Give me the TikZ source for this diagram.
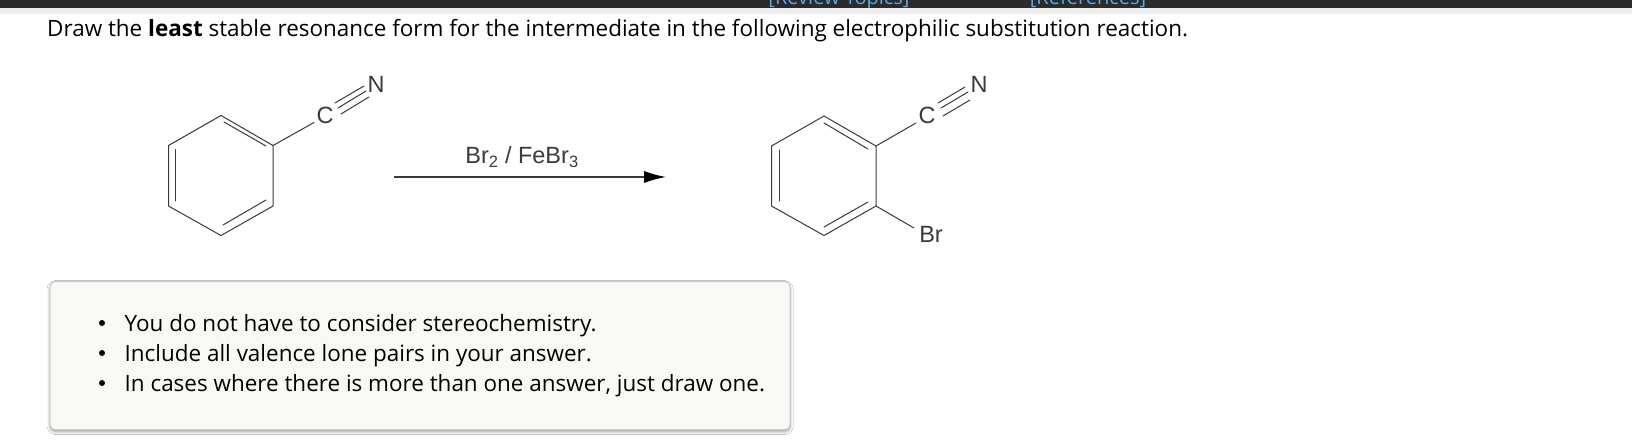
\documentclass[tikz,border=0pt]{standalone}
\usepackage{fontspec}
\setmainfont{Open Sans}
\newfontfamily\chemfont{Liberation Sans}
\usetikzlibrary{arrows.meta,shadows.blur}
\definecolor{bondc}{HTML}{3A3A3A}
\definecolor{barc}{HTML}{2B2B2B}
\definecolor{linkc}{HTML}{5FA8D8}
\definecolor{boxfill}{HTML}{F8F8F4}
\definecolor{boxline}{HTML}{CCCCCC}
\tikzset{
  x=1pt,y=-1pt,
  bond/.style={draw=bondc,line width=1pt,line cap=round,line join=round},
  atom/.style={font=\chemfont\fontsize{23.5}{26}\selectfont,text=bondc,inner sep=0pt,anchor=center},
  pagetext/.style={font=\fontsize{22.45}{26}\selectfont,text=black,inner sep=0pt,anchor=base west},
  listtext/.style={font=\fontsize{22.45}{26}\selectfont,text=black,inner sep=0pt,anchor=base west},
  dotmark/.style={circle,fill=black,inner sep=0pt,minimum size=6pt},
}
\begin{document}
\begin{tikzpicture}
\useasboundingbox (0,0) rectangle (1632,444);
\fill[white] (0,0) rectangle (1632,444);
\fill[black!7] (0,8) rectangle (1632,14);
\begin{scope}
\clip (0,0) rectangle (1632,8);
\fill[barc] (0,0) rectangle (1632,8);
\node[font=\fontsize{20}{24}\selectfont,text=linkc,inner sep=0pt,anchor=base] (rt) at (839,5) {[Review Topics]};
\node[font=\fontsize{20}{24}\selectfont,text=linkc,inner sep=0pt,anchor=base] (rf) at (1088,5) {[References]};
\end{scope}
\node[pagetext] (title) at (47,37) {Draw the \textbf{least} stable resonance form for the intermediate in the following electrophilic substitution reaction.};

% left molecule
\coordinate (a1) at (221,115.5);
\coordinate (a2) at (273,145.5);
\coordinate (a3) at (273,206);
\coordinate (a4) at (221,235.5);
\coordinate (a5) at (168.5,206);
\coordinate (a6) at (168.5,145.5);
\draw[bond] (a1)--(a2)--(a3)--(a4)--(a5)--(a6)--cycle;
\draw[bond] (224,122) -- (266,146);
\draw[bond] (266,200) -- (223,225);
\draw[bond] (175.5,149.5) -- (175.5,201);
\node[atom] (c1) at (325,115) {C};
\node[atom] (n1) at (376,84) {N};
\draw[bond] (a2) -- (314,122.5);
\draw[bond] (335,103) -- (364,86);
\draw[bond] (338,108) -- (366,91);
\draw[bond] (341,114) -- (369,97);
\node[font=\chemfont\fontsize{23.5}{26}\selectfont,text=bondc,inner sep=0pt] (lab) at (522,157) {Br\textsubscript{2} / FeBr\textsubscript{3}};
\coordinate (as) at (394,177);
\coordinate (ae) at (666,177);
\draw[draw=bondc,line width=1.2pt,-{Latex[black,length=22pt,width=12pt]}] (as) -- (ae);

% right molecule
\coordinate (b1) at (824,116);
\coordinate (b2) at (876,146);
\coordinate (b3) at (876,206);
\coordinate (b4) at (824,235.5);
\coordinate (b5) at (771.5,206);
\coordinate (b6) at (771.5,146);
\draw[bond] (b1)--(b2)--(b3)--(b4)--(b5)--(b6)--cycle;
\draw[bond] (824,123) -- (868,149);
\draw[bond] (868,202) -- (824,227);
\draw[bond] (779,150) -- (779,201);
\node[atom] (c2) at (927,115) {C};
\node[atom] (n2) at (979,84) {N};
\node[atom] (br) at (931,234) {Br};
\draw[bond] (b2) -- (916,123);
\draw[bond] (b3) -- (914,228);
\draw[bond] (938,103) -- (965,87);
\draw[bond] (941,108) -- (968,92);
\draw[bond] (943,116) -- (970,100);

% note box
\node[draw=boxline,line width=1.2pt,fill=boxfill,rounded corners=5pt,minimum width=740pt,minimum height=148pt,inner sep=0pt,anchor=north west,blur shadow={shadow blur steps=6,shadow xshift=0pt,shadow yshift=-2pt,shadow blur radius=3pt}] (box) at (49.5,281) {};
\node[dotmark] (d1) at (102,323) {};
\node[dotmark] (d2) at (102,353) {};
\node[dotmark] (d3) at (102,383) {};
\node[listtext] (t1) at (124.5,331.5) {You do not have to consider stereochemistry.};
\node[listtext] (t2) at (124.5,361.5) {Include all valence lone pairs in your answer.};
\node[listtext] (t3) at (124.5,391.5) {In cases where there is more than one answer, just draw one.};
\end{tikzpicture}
\end{document}
